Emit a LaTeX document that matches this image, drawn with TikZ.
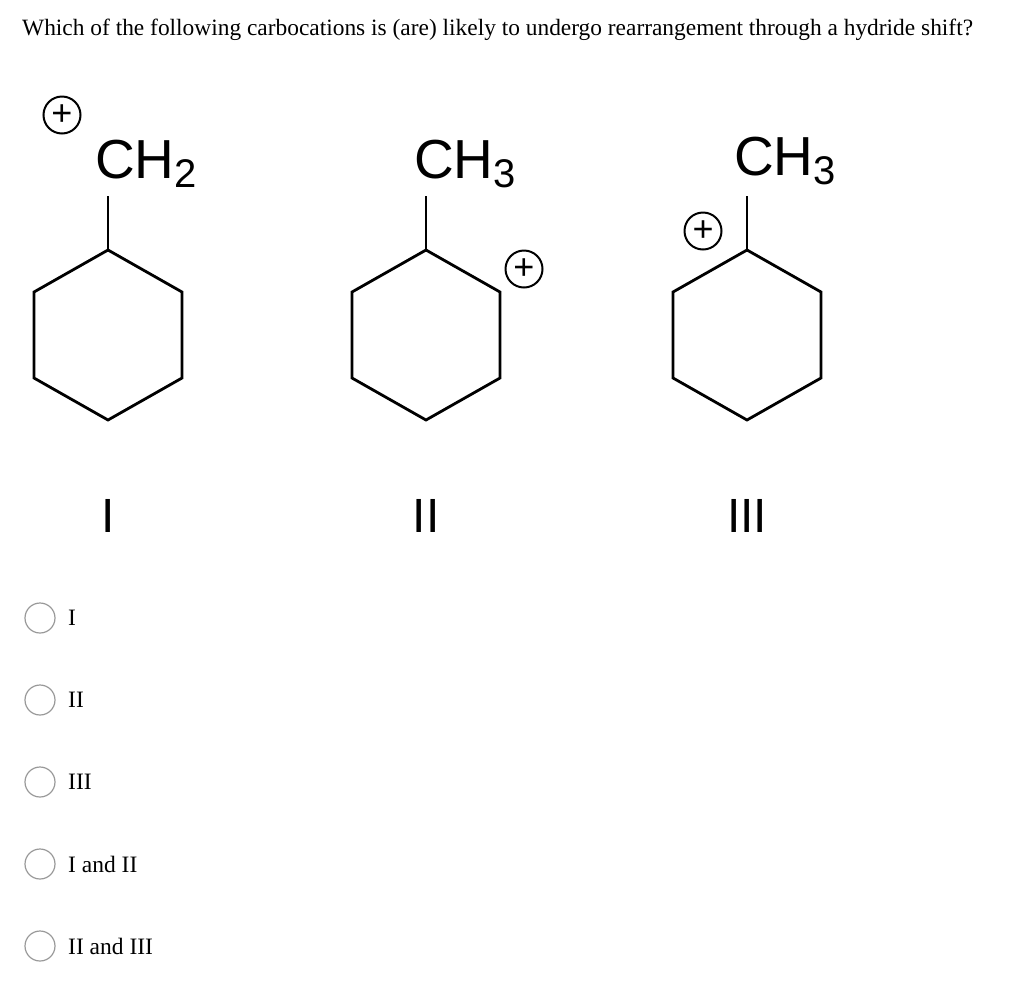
\documentclass[tikz,border=0pt]{standalone}
\usepackage{fontspec}
\setmainfont{Liberation Serif}
\newfontfamily\hv{Liberation Sans}
\begin{document}
\begin{tikzpicture}[x=1pt,y=-1pt,
  bond/.style={line width=2.8pt,line join=miter},
  pl/.style={circle,draw,line width=2pt,minimum size=37pt,inner sep=0pt,font=\hv\fontsize{36}{36}\selectfont},
  grp/.style={font=\hv\fontsize{55}{55}\selectfont,inner sep=0pt},
  lab/.style={font=\hv\fontsize{48}{48}\selectfont,inner sep=0pt},
  radio/.style={circle,draw=gray!80,line width=1.2pt,minimum size=30pt,inner sep=0pt},
  opt/.style={font=\fontsize{23.5}{23.5}\selectfont,anchor=west,inner sep=0pt}]
\useasboundingbox (0,0) rectangle (1024,994);
\node[anchor=west,font=\fontsize{23.4}{23.4}\selectfont,inner sep=0pt] (q) at (22,30) {Which of the following carbocations is (are) likely to undergo rearrangement through a hydride shift?};
\foreach \n/\cx in {a/108,b/426,c/747}{
  \draw[bond] (\cx,250) -- (\cx+74,292) -- (\cx+74,378) -- (\cx,420) -- (\cx-74,378) -- (\cx-74,292) -- cycle;
  \draw[bond] (\cx,250) -- (\cx,196);
}
\node[grp] (g1) at (146,164) {CH\raisebox{-0.3ex}{\fontsize{40}{40}\selectfont 2}};
\node[grp] (g2) at (465,164) {CH\raisebox{-0.3ex}{\fontsize{40}{40}\selectfont 3}};
\node[grp] (g3) at (785,161) {CH\raisebox{-0.3ex}{\fontsize{40}{40}\selectfont 3}};
\node[pl] (p1) at (62,115) {+};
\node[pl] (p2) at (524,269) {+};
\node[pl] (p3) at (703,231) {+};
\node[lab] (l1) at (108,516) {I};
\node[lab] (l2) at (426,516) {II};
\node[lab] (l3) at (747,516) {III};
\foreach \i/\y/\t in {1/618/I,2/700/II,3/782/III,4/864/I and II,5/946/II and III}{
  \node[radio] (r\i) at (40,\y) {};
  \node[opt] (o\i) at (68,\y) {\t};
}
\end{tikzpicture}
\end{document}
